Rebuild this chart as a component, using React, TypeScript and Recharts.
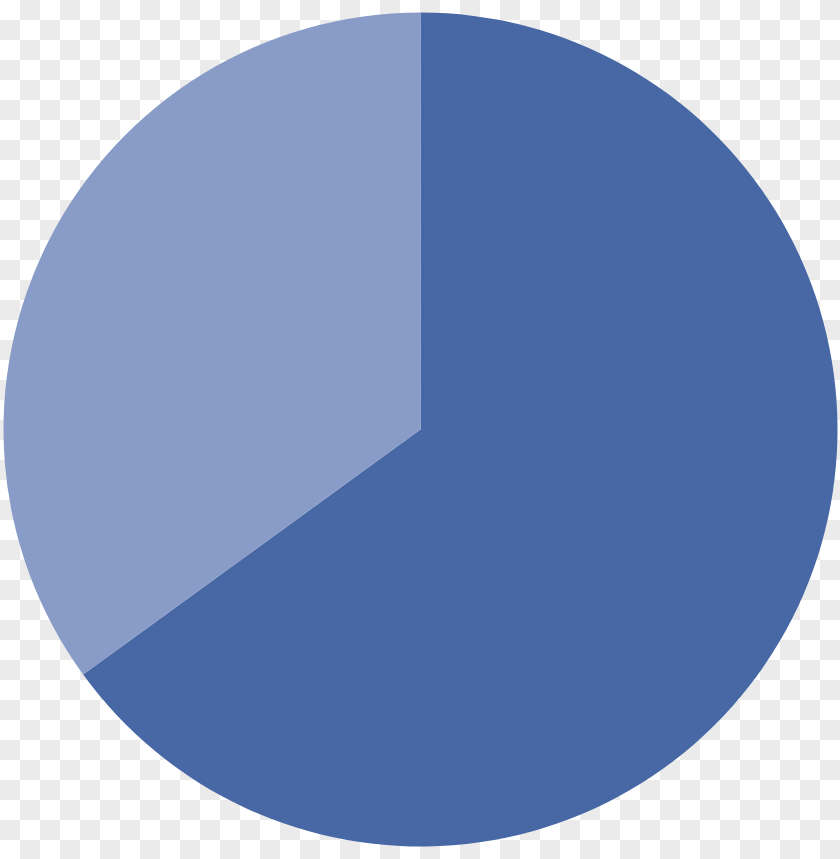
import { PieChart, Pie, Cell } from 'recharts';

const sliceNames = ['Majority', 'Minority'];
const sliceValues = [65, 35];
const sliceColors = ['#4768a5', '#899cc8'];

const data = sliceNames.map((name, i) => ({ name, value: sliceValues[i] }));

export default function App() {
  return (
    <div
      style={{
        position: 'absolute',
        top: 0,
        left: 0,
        width: 840,
        height: 859,
        background: 'repeating-conic-gradient(#ebebeb 0 25%, #ffffff 0 50%) 0 0 / 40px 40px',
      }}
    >
      <PieChart width={840} height={859} margin={{ top: 0, right: 0, bottom: 0, left: 0 }}>
        <Pie
          data={data}
          dataKey="value"
          nameKey="name"
          cx={420.5}
          cy={429.5}
          outerRadius={417}
          startAngle={90}
          endAngle={-270}
          stroke="none"
          isAnimationActive={false}
        >
          {data.map((d, i) => (
            <Cell key={d.name} fill={sliceColors[i]} />
          ))}
        </Pie>
      </PieChart>
    </div>
  );
}
